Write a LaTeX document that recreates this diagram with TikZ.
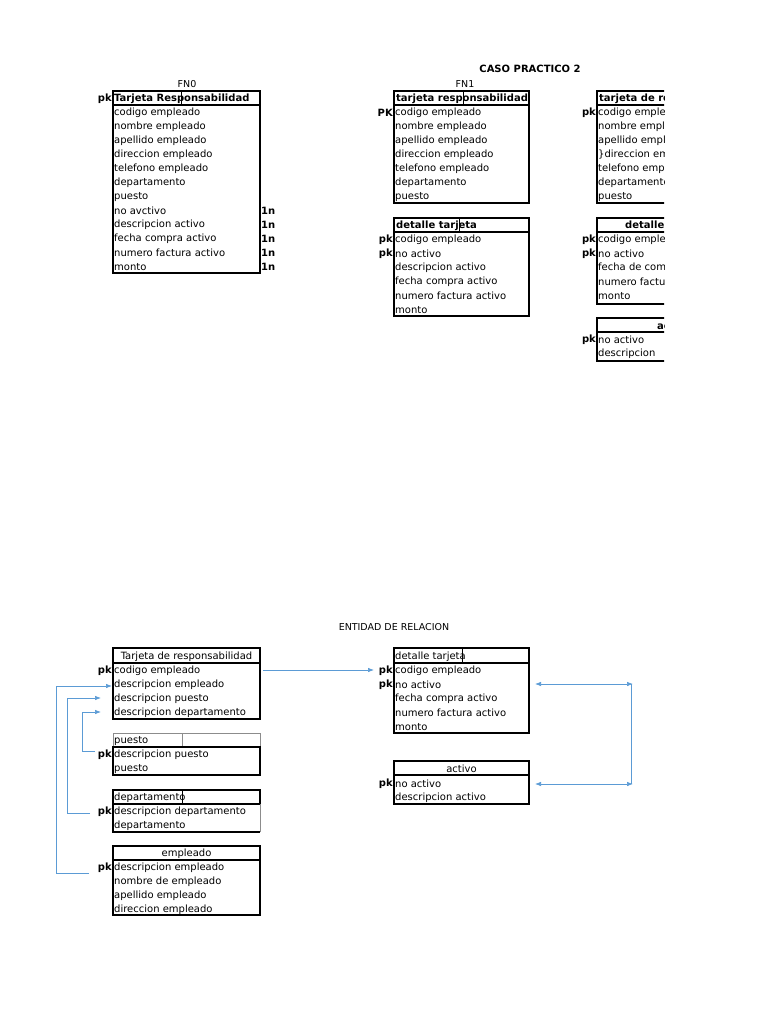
\documentclass[tikz,border=0pt]{standalone}
\usepackage{fontspec}
\setmainfont{DejaVu Sans}
\usetikzlibrary{arrows.meta,positioning}
\definecolor{linkblue}{RGB}{91,155,213}
\tikzset{
  cell/.style={anchor=west,inner sep=0pt,yshift=-1pt,font=\fontsize{10}{12}\selectfont},
  headbold/.style={cell,font=\bfseries\fontsize{10}{12}\selectfont},
  headmid/.style={anchor=center,inner sep=0pt,yshift=-1pt,font=\fontsize{10}{12}\selectfont},
  keymark/.style={anchor=east,inner sep=0pt,yshift=-1pt,font=\bfseries\fontsize{10}{12}\selectfont},
  manymark/.style={anchor=west,inner sep=0pt,yshift=-1pt,font=\bfseries\fontsize{10}{12}\selectfont},
  titletext/.style={inner sep=0pt,font=\bfseries\fontsize{10}{12}\selectfont},
  labeltext/.style={inner sep=0pt,font=\fontsize{9.5}{11}\selectfont},
  frame/.style={line width=1.3pt},
  thinframe/.style={black!45,line width=0.6pt},
  divider/.style={line width=0.5pt},
  link/.style={linkblue,line width=0.7pt},
  tip/.style={-{Latex[length=6pt,width=4.5pt]}},
  twotip/.style={{Latex[length=6pt,width=4.5pt]}-{Latex[length=6pt,width=4.5pt]}}
}

\begin{document}
\begin{tikzpicture}[x=1pt,y=-1pt]
  \useasboundingbox (0,0) rectangle (768,1024);
  % titles
  \node[titletext] (caso) at (530,69) {CASO PRACTICO 2};
  \node[labeltext] (fn0) at (187,84) {FN0};
  \node[labeltext] (fn1) at (465,84) {FN1};
  \node[labeltext] (er) at (394,627) {ENTIDAD DE RELACION};

  % FN0: one table
  \draw[frame] (113,91) rectangle (260,273);
  \draw[frame] (113,105) -- (260,105);
  \draw[divider] (181,91) -- (181,105);
  \node[headbold] (fn0-h) at (114,98) {Tarjeta Responsabilidad};
  \node[keymark] (fn0-pk) at (112,98) {pk};
  \foreach \t [count=\i] in {codigo empleado,nombre empleado,apellido empleado,
      direccion empleado,telefono empleado,departamento,puesto,no avctivo,
      descripcion activo,fecha compra activo,numero factura activo,monto}
    \node[cell] (fn0-\i) at (114,{98+14*\i}) {\t};
  \foreach \i in {8,...,12}
    \node[manymark] (fn0-n\i) at (261,{98+14*\i}) {1n};

  % FN1: tarjeta responsabilidad
  \draw[frame] (394,91) rectangle (529,203);
  \draw[frame] (394,105) -- (529,105);
  \draw[divider] (463,91) -- (463,105);
  \node[headbold] (fn1t-h) at (396,98) {tarjeta responsabilidad};
  \node[keymark] (fn1t-pk) at (393,112) {PK};
  \foreach \t [count=\i] in {codigo empleado,nombre empleado,apellido empleado,
      direccion empleado,telefono empleado,departamento,puesto}
    \node[cell] (fn1t-\i) at (395,{98+14*\i}) {\t};

  % FN1: detalle tarjeta
  \draw[frame] (394,218) rectangle (529,316);
  \draw[frame] (394,232) -- (529,232);
  \draw[divider] (459,218) -- (459,232);
  \node[headbold] (fn1d-h) at (396,225) {detalle tarjeta};
  \node[keymark] (fn1d-pk1) at (393,239) {pk};
  \node[keymark] (fn1d-pk2) at (393,253) {pk};
  \foreach \t [count=\i] in {codigo empleado,no activo,descripcion  activo,
      fecha compra activo,numero factura activo,monto}
    \node[cell] (fn1d-\i) at (395,{225+14*\i}) {\t};

  % FN2: cut at the page edge
  \begin{scope}
    \clip (0,0) rectangle (664,1024);
    \draw[frame] (597,91) rectangle (740,203);
    \draw[frame] (597,105) -- (740,105);
    \node[headbold] (fn2t-h) at (599,98) {tarjeta de responsabilidad};
    \node[keymark] (fn2t-pk) at (596,112) {pk};
    \foreach \t [count=\i] in {codigo empleado,nombre empleado,apellido empleado,
        \}direccion empleado,telefono empleado,departamento,puesto}
      \node[cell] (fn2t-\i) at (598,{98+14*\i}) {\t};
    % detalle
    \draw[frame] (597,218) rectangle (740,304);
    \draw[frame] (597,232) -- (740,232);
    \node[headbold] (fn2d-h) at (625,225) {detalle tarjeta};
    \node[keymark] (fn2d-pk1) at (596,239) {pk};
    \node[keymark] (fn2d-pk2) at (596,253) {pk};
    \foreach \t [count=\i] in {codigo empleado,no activo,fecha de compra activo,
        numero factura activo,monto}
      \node[cell] (fn2d-\i) at (598,{225+14*\i}) {\t};
    % activo
    \draw[frame] (597,318) rectangle (740,361);
    \draw[frame] (597,332) -- (740,332);
    \node[headbold] (fn2a-h) at (657,325) {activo};
    \node[keymark] (fn2a-pk) at (596,339) {pk};
    \node[cell] (fn2a-1) at (598,339) {no activo};
    \node[cell] (fn2a-2) at (598,353) {descripcion};
  \end{scope}

  % ER: Tarjeta de responsabilidad
  \draw[frame] (113,648) rectangle (260,719);
  \draw[frame] (113,663) -- (260,663);
  \node[headmid] (tr-h) at (186.5,656) {Tarjeta de responsabilidad};
  \node[keymark] (tr-pk) at (112,670) {pk};
  \foreach \t [count=\i] in {codigo empleado,descripcion empleado,
      descripcion puesto,descripcion departamento}
    \node[cell] (tr-\i) at (114,{656+14*\i}) {\t};

  % ER: puesto
  \draw[thinframe] (113,733) rectangle (260,747);
  \draw[thinframe] (182,733) -- (182,747);
  \draw[frame] (113,747) rectangle (260,775);
  \node[cell] (pu-h) at (114,740) {puesto};
  \node[keymark] (pu-pk) at (112,754) {pk};
  \node[cell] (pu-1) at (114,754) {descripcion puesto};
  \node[cell] (pu-2) at (114,768) {puesto};

  % ER: departamento
  \draw[frame] (113,790) rectangle (260,804);
  \draw[divider] (182,790) -- (182,804);
  \draw[frame] (260,832) -- (113,832) -- (113,804);
  \draw[thinframe] (260,804) -- (260,832);
  \node[cell] (de-h) at (114,797) {departamento};
  \node[keymark] (de-pk) at (112,811) {pk};
  \node[cell] (de-1) at (114,811) {descripcion departamento};
  \node[cell] (de-2) at (114,825) {departamento};

  % ER: empleado
  \draw[frame] (113,846) rectangle (260,915);
  \draw[frame] (113,860) -- (260,860);
  \node[headmid] (em-h) at (186.5,853) {empleado};
  \node[keymark] (em-pk) at (112,867) {pk};
  \foreach \t [count=\i] in {descripcion empleado,nombre de empleado,
      apellido empleado,direccion empleado}
    \node[cell] (em-\i) at (114,{853+14*\i}) {\t};

  % ER: detalle tarjeta
  \draw[frame] (394,648) rectangle (529,733);
  \draw[frame] (394,663) -- (529,663);
  \draw[divider] (462,648) -- (462,663);
  \node[cell] (dt-h) at (395,656) {detalle tarjeta};
  \node[keymark] (dt-pk1) at (393,670) {pk};
  \node[keymark] (dt-pk2) at (393,684) {pk};
  \foreach \t [count=\i] in {codigo empleado,no activo,fecha compra activo,
      numero factura activo,monto}
    \node[cell] (dt-\i) at (395,{656+14*\i}) {\t};

  % ER: activo
  \draw[frame] (394,761) rectangle (529,804);
  \draw[frame] (394,775) -- (529,775);
  \node[headmid] (ac-h) at (461.5,768) {activo};
  \node[keymark] (ac-pk) at (393,783) {pk};
  \node[cell] (ac-1) at (395,783) {no activo};
  \node[cell] (ac-2) at (395,797) {descripcion activo};

  % connector ends
  \coordinate (tr-out) at (263,670);
  \coordinate (dt-in) at (374,670);
  \coordinate (dt-side) at (535,684);
  \coordinate (ac-side) at (535,784);
  \coordinate (loop-t) at (633,684);
  \coordinate (loop-b) at (633,784);
  \coordinate (em-out) at (89,873);
  \coordinate (de-out) at (90,813);
  \coordinate (pu-out) at (95,751);
  \coordinate (tr-in2) at (112,686);
  \coordinate (tr-in3) at (101,698);
  \coordinate (tr-in4) at (101,712);

  % links
  \draw[link,tip] (tr-out) -- (dt-in);
  \draw[link,twotip] (dt-side) -- (loop-t);
  \draw[link,twotip] (ac-side) -- (loop-b);
  \draw[link] ([xshift=-2pt]loop-t) -- ([xshift=-2pt]loop-b);
  \draw[link,tip] (em-out) -- ++(-33,0) |- (tr-in2);
  \draw[link,tip] (de-out) -- ++(-23,0) |- (tr-in3);
  \draw[link,tip] (pu-out) -- ++(-13,0) |- (tr-in4);
\end{tikzpicture}
\end{document}
